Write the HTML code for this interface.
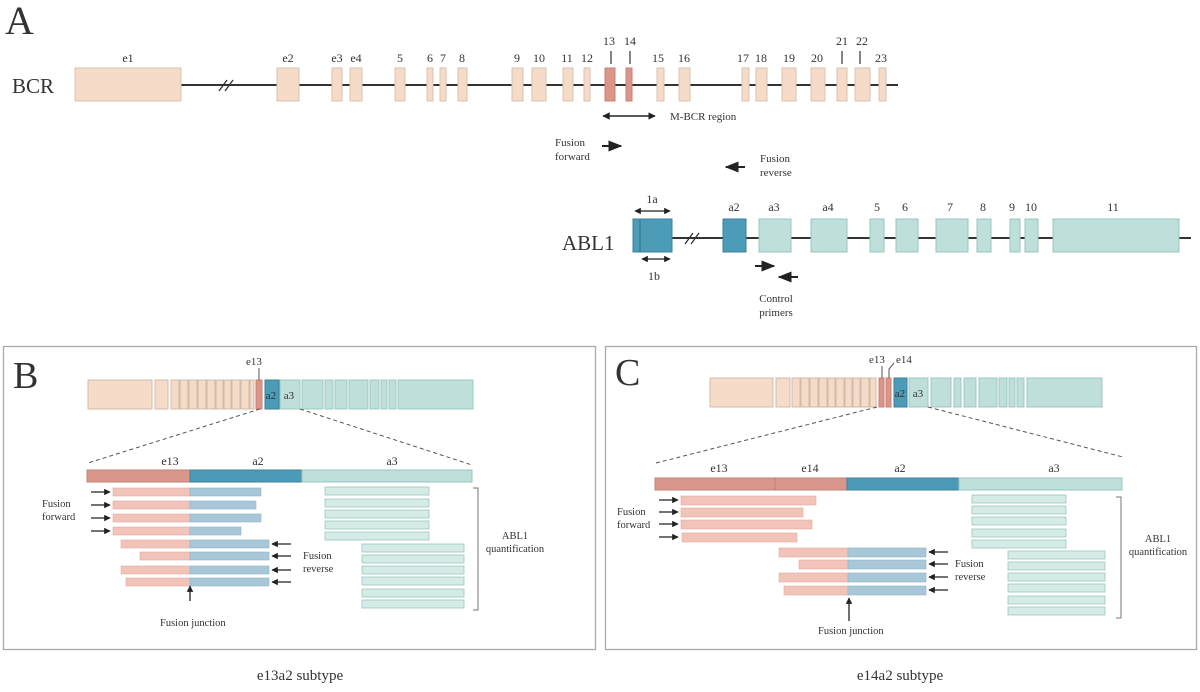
<!DOCTYPE html>
<html><head><meta charset="utf-8"><style>body{margin:0;background:#fff}svg{display:block}text{font-family:"Liberation Serif",serif;fill:#333}</style></head><body>
<svg width="1200" height="692" viewBox="0 0 1200 692" xmlns="http://www.w3.org/2000/svg">
<defs>
<marker id="ah" viewBox="0 0 10 10" refX="9" refY="5" markerWidth="5" markerHeight="5" orient="auto-start-reverse"><path d="M0,0 L10,5 L0,10 z" fill="#222"/></marker>
<marker id="as" viewBox="0 0 10 10" refX="9" refY="5" markerWidth="7" markerHeight="7" orient="auto-start-reverse"><path d="M0,1 L10,5 L0,9 z" fill="#222"/></marker>
</defs>
<!-- PANEL A -->
<text x="5" y="34" font-size="40">A</text>
<text x="12" y="93" font-size="21">BCR</text>
<line x1="181" y1="85" x2="898" y2="85" stroke="#333" stroke-width="2"/>
<g stroke="#333" stroke-width="1.3"><line x1="219" y1="91" x2="227" y2="80"/><line x1="225" y1="91" x2="233" y2="80"/></g>
<g fill="#f6dcc8" stroke="#d8c2b0" stroke-width="1">
<rect x="75" y="68" width="106" height="33"/><rect x="277" y="68" width="22" height="33"/><rect x="332" y="68" width="10" height="33"/><rect x="350" y="68" width="12" height="33"/><rect x="395" y="68" width="10" height="33"/><rect x="427" y="68" width="6" height="33"/><rect x="440" y="68" width="6" height="33"/><rect x="458" y="68" width="9" height="33"/><rect x="512" y="68" width="11" height="33"/><rect x="532" y="68" width="14" height="33"/><rect x="563" y="68" width="10" height="33"/><rect x="584" y="68" width="6" height="33"/><rect x="657" y="68" width="7" height="33"/><rect x="679" y="68" width="11" height="33"/><rect x="742" y="68" width="7" height="33"/><rect x="756" y="68" width="11" height="33"/><rect x="782" y="68" width="14" height="33"/><rect x="811" y="68" width="14" height="33"/><rect x="837" y="68" width="10" height="33"/><rect x="855" y="68" width="15" height="33"/><rect x="879" y="68" width="7" height="33"/>
</g>
<g fill="#dc9589" stroke="#c98074"><rect x="605" y="68" width="10" height="33"/><rect x="626" y="68" width="6" height="33"/></g>
<g font-size="12" text-anchor="middle">
<text x="128" y="62">e1</text><text x="288" y="62">e2</text><text x="337" y="62">e3</text><text x="356" y="62">e4</text><text x="400" y="62">5</text><text x="430" y="62">6</text><text x="443" y="62">7</text><text x="462" y="62">8</text><text x="517" y="62">9</text><text x="539" y="62">10</text><text x="567" y="62">11</text><text x="587" y="62">12</text><text x="658" y="62">15</text><text x="684" y="62">16</text><text x="743" y="62">17</text><text x="761" y="62">18</text><text x="789" y="62">19</text><text x="817" y="62">20</text><text x="881" y="62">23</text>
<text x="609" y="45">13</text><text x="630" y="45">14</text><text x="842" y="45">21</text><text x="862" y="45">22</text>
</g>
<g stroke="#333" stroke-width="1.2"><line x1="611" y1="51" x2="611" y2="64"/><line x1="630" y1="51" x2="630" y2="64"/><line x1="842" y1="51" x2="842" y2="64"/><line x1="860" y1="51" x2="860" y2="64"/></g>
<line x1="603" y1="116" x2="655" y2="116" stroke="#222" stroke-width="1.5" marker-start="url(#ah)" marker-end="url(#ah)"/>
<text x="670" y="120" font-size="11">M-BCR region</text>
<text x="555" y="146" font-size="11">Fusion</text><text x="555" y="160" font-size="11">forward</text>
<line x1="602" y1="146" x2="621" y2="146" stroke="#222" stroke-width="2" marker-end="url(#as)"/>
<line x1="745" y1="167" x2="726" y2="167" stroke="#222" stroke-width="2" marker-end="url(#as)"/>
<text x="760" y="162" font-size="11">Fusion</text><text x="760" y="176" font-size="11">reverse</text>
<text x="562" y="250" font-size="21">ABL1</text>
<line x1="672" y1="238" x2="1191" y2="238" stroke="#333" stroke-width="2"/>
<g stroke="#333" stroke-width="1.3"><line x1="685" y1="244" x2="693" y2="233"/><line x1="691" y1="244" x2="699" y2="233"/></g>
<g fill="#4c9bb7" stroke="#3c829b"><rect x="633" y="219" width="39" height="33"/><rect x="723" y="219" width="23" height="33"/></g>
<line x1="640" y1="219" x2="640" y2="252" stroke="#2f6f85"/>
<g fill="#bfe0da" stroke="#97c4bd"><rect x="759" y="219" width="32" height="33"/><rect x="811" y="219" width="36" height="33"/><rect x="870" y="219" width="14" height="33"/><rect x="896" y="219" width="22" height="33"/><rect x="936" y="219" width="32" height="33"/><rect x="977" y="219" width="14" height="33"/><rect x="1010" y="219" width="10" height="33"/><rect x="1025" y="219" width="13" height="33"/><rect x="1053" y="219" width="126" height="33"/></g>
<g font-size="12" text-anchor="middle"><text x="652" y="203">1a</text><text x="734" y="211">a2</text><text x="774" y="211">a3</text><text x="828" y="211">a4</text><text x="877" y="211">5</text><text x="905" y="211">6</text><text x="950" y="211">7</text><text x="983" y="211">8</text><text x="1012" y="211">9</text><text x="1031" y="211">10</text><text x="1113" y="211">11</text><text x="654" y="280">1b</text></g>
<line x1="635" y1="211" x2="670" y2="211" stroke="#222" stroke-width="1.3" marker-start="url(#ah)" marker-end="url(#ah)"/>
<line x1="642" y1="259" x2="670" y2="259" stroke="#222" stroke-width="1.3" marker-start="url(#ah)" marker-end="url(#ah)"/>
<line x1="755" y1="266" x2="774" y2="266" stroke="#222" stroke-width="2" marker-end="url(#as)"/>
<line x1="798" y1="277" x2="779" y2="277" stroke="#222" stroke-width="2" marker-end="url(#as)"/>
<text x="776" y="302" font-size="11" text-anchor="middle">Control</text><text x="776" y="316" font-size="11" text-anchor="middle">primers</text>

<!-- PANEL B -->
<rect x="3.5" y="346.5" width="592" height="303" fill="none" stroke="#aaa" stroke-width="1.3"/>
<text x="13" y="388" font-size="38">B</text>
<g fill="#f6dcc8" stroke="#cab6a6" stroke-width="0.9">
<rect x="88" y="380" width="64" height="29"/><rect x="155" y="380" width="13" height="29"/><rect x="171" y="380" width="8" height="29"/><rect x="180" y="380" width="8" height="29"/><rect x="189" y="380" width="8" height="29"/><rect x="198" y="380" width="8" height="29"/><rect x="207" y="380" width="8" height="29"/><rect x="216" y="380" width="7" height="29"/><rect x="224" y="380" width="7" height="29"/><rect x="232" y="380" width="8" height="29"/><rect x="241" y="380" width="8" height="29"/><rect x="250" y="380" width="4" height="29"/>
</g>
<rect x="256" y="380" width="6" height="29" fill="#dc9589" stroke="#c98074"/>
<rect x="265" y="380" width="14" height="29" fill="#4c9bb7" stroke="#3c829b"/>
<g fill="#bfe0da" stroke="#97c4bd" stroke-width="0.9"><rect x="280" y="380" width="20" height="29"/><rect x="302" y="380" width="21" height="29"/><rect x="325" y="380" width="8" height="29"/><rect x="335" y="380" width="12" height="29"/><rect x="349" y="380" width="19" height="29"/><rect x="370" y="380" width="9" height="29"/><rect x="381" y="380" width="6" height="29"/><rect x="389" y="380" width="7" height="29"/><rect x="398" y="380" width="75" height="29"/></g>
<text x="271" y="399" font-size="11" text-anchor="middle">a2</text><text x="289" y="399" font-size="11" text-anchor="middle">a3</text>
<text x="254" y="365" font-size="11" text-anchor="middle">e13</text><line x1="259" y1="368" x2="259" y2="380" stroke="#555"/>
<g stroke="#555" stroke-dasharray="4,3"><line x1="260" y1="409" x2="88" y2="463"/><line x1="300" y1="409" x2="472" y2="465"/></g>
<rect x="87" y="470" width="103" height="12" fill="#d9978c" stroke="#c08075"/>
<rect x="190" y="470" width="112" height="12" fill="#4c9ab6" stroke="#3c829b"/>
<rect x="302" y="470" width="170" height="12" fill="#bfe0da" stroke="#97c4bd"/>
<g font-size="12" text-anchor="middle"><text x="170" y="465">e13</text><text x="258" y="465">a2</text><text x="392" y="465">a3</text></g>
<g fill="#f2c3b9" stroke="#e0aca1" stroke-width="0.6">
<rect x="113" y="488" width="77" height="8"/><rect x="113" y="501" width="77" height="8"/><rect x="113" y="514" width="77" height="8"/><rect x="113" y="527" width="77" height="8"/>
<rect x="121" y="540" width="69" height="8"/><rect x="140" y="552" width="50" height="8"/><rect x="121" y="566" width="69" height="8"/><rect x="126" y="578" width="64" height="8"/>
</g>
<g fill="#a8c8da" stroke="#8fb3c6" stroke-width="0.6">
<rect x="190" y="488" width="71" height="8"/><rect x="190" y="501" width="66" height="8"/><rect x="190" y="514" width="71" height="8"/><rect x="190" y="527" width="51" height="8"/>
<rect x="190" y="540" width="79" height="8"/><rect x="190" y="552" width="79" height="8"/><rect x="190" y="566" width="79" height="8"/><rect x="190" y="578" width="79" height="8"/>
</g>
<g stroke="#222" stroke-width="1.3" marker-end="url(#ah)"><line x1="91" y1="492" x2="110" y2="492"/><line x1="91" y1="505" x2="110" y2="505"/><line x1="91" y1="518" x2="110" y2="518"/><line x1="91" y1="531" x2="110" y2="531"/>
<line x1="291" y1="544" x2="272" y2="544"/><line x1="291" y1="556" x2="272" y2="556"/><line x1="291" y1="570" x2="272" y2="570"/><line x1="291" y1="582" x2="272" y2="582"/>
<line x1="190" y1="601" x2="190" y2="586"/></g>
<g font-size="10.5"><text x="42" y="507">Fusion</text><text x="42" y="520">forward</text><text x="303" y="559">Fusion</text><text x="303" y="572">reverse</text><text x="160" y="626">Fusion junction</text></g>
<g fill="#d5ebe7" stroke="#9cc6bf" stroke-width="0.8">
<rect x="325" y="487" width="104" height="8"/><rect x="325" y="499" width="104" height="8"/><rect x="325" y="510" width="104" height="8"/><rect x="325" y="521" width="104" height="8"/><rect x="325" y="532" width="104" height="8"/>
<rect x="362" y="544" width="102" height="8"/><rect x="362" y="555" width="102" height="8"/><rect x="362" y="566" width="102" height="8"/><rect x="362" y="577" width="102" height="8"/><rect x="362" y="589" width="102" height="8"/><rect x="362" y="600" width="102" height="8"/>
</g>
<path d="M473,488 H478 V610 H473" fill="none" stroke="#777"/>
<g font-size="10.5" text-anchor="middle"><text x="515" y="539">ABL1</text><text x="515" y="552">quantification</text></g>
<text x="300" y="680" font-size="15" text-anchor="middle">e13a2 subtype</text>

<!-- PANEL C -->
<rect x="605.5" y="346.5" width="591" height="303" fill="none" stroke="#aaa" stroke-width="1.3"/>
<text x="615" y="385" font-size="38">C</text>
<g fill="#f6dcc8" stroke="#cab6a6" stroke-width="0.9">
<rect x="710" y="378" width="63" height="29"/><rect x="776" y="378" width="14" height="29"/><rect x="792" y="378" width="8" height="29"/><rect x="801" y="378" width="8" height="29"/><rect x="810" y="378" width="8" height="29"/><rect x="819" y="378" width="8" height="29"/><rect x="828" y="378" width="7" height="29"/><rect x="836" y="378" width="8" height="29"/><rect x="845" y="378" width="7" height="29"/><rect x="853" y="378" width="7" height="29"/><rect x="861" y="378" width="8" height="29"/><rect x="870" y="378" width="6" height="29"/>
</g>
<g fill="#dc9589" stroke="#c98074"><rect x="879" y="378" width="5" height="29"/><rect x="886" y="378" width="5" height="29"/></g>
<rect x="894" y="378" width="13" height="29" fill="#4c9bb7" stroke="#3c829b"/>
<g fill="#bfe0da" stroke="#97c4bd" stroke-width="0.9"><rect x="909" y="378" width="19" height="29"/><rect x="931" y="378" width="20" height="29"/><rect x="954" y="378" width="7" height="29"/><rect x="964" y="378" width="12" height="29"/><rect x="979" y="378" width="18" height="29"/><rect x="999" y="378" width="8" height="29"/><rect x="1009" y="378" width="6" height="29"/><rect x="1017" y="378" width="7" height="29"/><rect x="1027" y="378" width="75" height="29"/></g>
<text x="900" y="397" font-size="11" text-anchor="middle">a2</text><text x="918" y="397" font-size="11" text-anchor="middle">a3</text>
<text x="877" y="363" font-size="11" text-anchor="middle">e13</text><text x="904" y="363" font-size="11" text-anchor="middle">e14</text>
<line x1="882" y1="366" x2="882" y2="378" stroke="#555"/><path d="M889,378 V369 L894,363" fill="none" stroke="#555"/>
<g stroke="#555" stroke-dasharray="4,3"><line x1="877" y1="407" x2="656" y2="463"/><line x1="928" y1="407" x2="1123" y2="457"/></g>
<rect x="655" y="478" width="120" height="12" fill="#d9978c" stroke="#c08075"/>
<rect x="775" y="478" width="72" height="12" fill="#d9978c" stroke="#c08075"/>
<rect x="847" y="478" width="112" height="12" fill="#4c9ab6" stroke="#3c829b"/>
<rect x="959" y="478" width="163" height="12" fill="#bfe0da" stroke="#97c4bd"/>
<g font-size="12" text-anchor="middle"><text x="719" y="472">e13</text><text x="810" y="472">e14</text><text x="900" y="472">a2</text><text x="1054" y="472">a3</text></g>
<g fill="#f2c3b9" stroke="#e0aca1" stroke-width="0.6">
<rect x="681" y="496" width="135" height="9"/><rect x="681" y="508" width="122" height="9"/><rect x="681" y="520" width="131" height="9"/><rect x="682" y="533" width="115" height="9"/>
<rect x="779" y="548" width="69" height="9"/><rect x="799" y="560" width="49" height="9"/><rect x="779" y="573" width="69" height="9"/><rect x="784" y="586" width="64" height="9"/>
</g>
<g fill="#a8c8da" stroke="#8fb3c6" stroke-width="0.6"><rect x="848" y="548" width="78" height="9"/><rect x="848" y="560" width="78" height="9"/><rect x="848" y="573" width="78" height="9"/><rect x="848" y="586" width="78" height="9"/></g>
<g stroke="#222" stroke-width="1.3" marker-end="url(#ah)"><line x1="659" y1="500" x2="678" y2="500"/><line x1="659" y1="512" x2="678" y2="512"/><line x1="659" y1="524" x2="678" y2="524"/><line x1="659" y1="537" x2="678" y2="537"/>
<line x1="948" y1="552" x2="929" y2="552"/><line x1="948" y1="564" x2="929" y2="564"/><line x1="948" y1="577" x2="929" y2="577"/><line x1="948" y1="590" x2="929" y2="590"/>
<line x1="849" y1="621" x2="849" y2="598"/></g>
<g font-size="10.5"><text x="617" y="515">Fusion</text><text x="617" y="528">forward</text><text x="955" y="567">Fusion</text><text x="955" y="580">reverse</text><text x="818" y="634">Fusion junction</text></g>
<g fill="#d5ebe7" stroke="#9cc6bf" stroke-width="0.8">
<rect x="972" y="495" width="94" height="8"/><rect x="972" y="506" width="94" height="8"/><rect x="972" y="517" width="94" height="8"/><rect x="972" y="529" width="94" height="8"/><rect x="972" y="540" width="94" height="8"/>
<rect x="1008" y="551" width="97" height="8"/><rect x="1008" y="562" width="97" height="8"/><rect x="1008" y="573" width="97" height="8"/><rect x="1008" y="584" width="97" height="8"/><rect x="1008" y="596" width="97" height="8"/><rect x="1008" y="607" width="97" height="8"/>
</g>
<path d="M1116,497 H1121 V618 H1116" fill="none" stroke="#777"/>
<g font-size="10.5" text-anchor="middle"><text x="1158" y="542">ABL1</text><text x="1158" y="555">quantification</text></g>
<text x="900" y="680" font-size="15" text-anchor="middle">e14a2 subtype</text>
</svg>
</body></html>
